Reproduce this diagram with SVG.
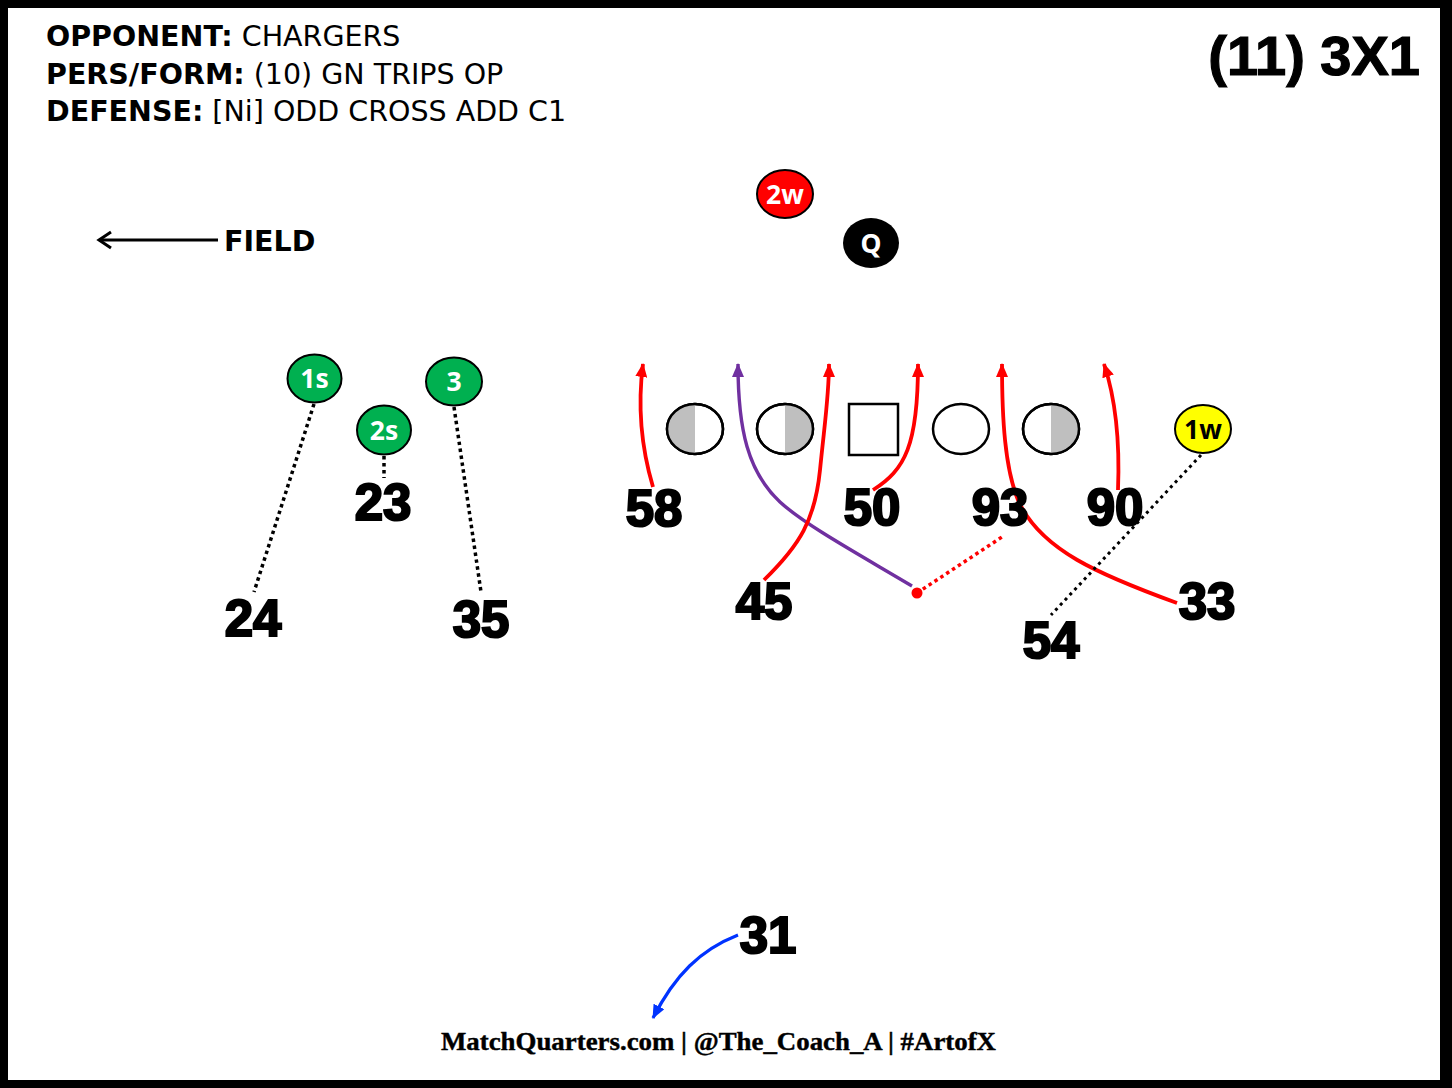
<svg xmlns="http://www.w3.org/2000/svg" width="1452" height="1088" viewBox="0 0 1452 1088">
<defs>
<style>
.hdr{font-family:"DejaVu Sans",sans-serif;font-size:28.5px;fill:#000}
.b{font-weight:bold}
.num{font-family:"Liberation Sans",Arial,sans-serif;font-weight:bold;font-size:51px;fill:#000;stroke:#000;stroke-width:2.2;text-anchor:middle}
.lbl{font-family:"Noto Sans","Open Sans",sans-serif;font-weight:bold;font-size:26.5px;text-anchor:middle}
.ol{stroke:#000;stroke-width:2.5;fill:#fff}
.ole{stroke:#000;stroke-width:2.5;fill:none}
.gray{fill:#BFBFBF}
.rt{fill:none;stroke:#FF0000;stroke-width:3.8}
.dot{fill:none;stroke:#000;stroke-width:3.5;stroke-dasharray:3.5 3.5}
</style>
<marker id="ar" viewBox="0 0 14 12" refX="13" refY="6" markerWidth="14" markerHeight="12" markerUnits="userSpaceOnUse" orient="auto"><path d="M0,0 L14,6 L0,12 z" fill="#FF0000"/></marker>
<marker id="ap" viewBox="0 0 14 12" refX="13" refY="6" markerWidth="14" markerHeight="12" markerUnits="userSpaceOnUse" orient="auto"><path d="M0,0 L14,6 L0,12 z" fill="#7030A0"/></marker>
<marker id="ab" viewBox="0 0 14 12" refX="13" refY="6" markerWidth="14" markerHeight="12" markerUnits="userSpaceOnUse" orient="auto"><path d="M0,0 L14,6 L0,12 z" fill="#0033FF"/></marker>
</defs>
<rect x="0" y="0" width="1452" height="1088" fill="#000"/>
<rect x="8" y="8" width="1432" height="1072" fill="#fff"/>

<g id="header">
<text class="hdr" x="46" y="46"><tspan class="b">OPPONENT:</tspan> CHARGERS</text>
<text class="hdr" x="46" y="84"><tspan class="b">PERS/FORM:</tspan> (10) GN TRIPS OP</text>
<text class="hdr" x="46" y="121"><tspan class="b">DEFENSE:</tspan> [Ni] ODD CROSS ADD C1</text>
<text x="1420" y="75" font-family="Liberation Sans,Arial,sans-serif" font-weight="bold" font-size="56" text-anchor="end" stroke="#000" stroke-width="1.2">(11) 3X1</text>
</g>

<g id="field">
<line x1="99" y1="240" x2="218" y2="240" stroke="#000" stroke-width="3"/>
<polyline points="111,232 99,240 111,248" fill="none" stroke="#000" stroke-width="3"/>
<text x="224" y="251" class="hdr b" font-size="26.5">FIELD</text>
</g>

<g id="connectors">
<path class="rt" d="M653,487 C642,450 637,410 643,364" marker-end="url(#ar)"/>
<path d="M912,586 C860,555 805,525 780,502 C748,472 738,430 738,364" fill="none" stroke="#7030A0" stroke-width="3.4" marker-end="url(#ap)"/>
<path class="rt" d="M764,580 C800,545 815,520 820,470 C825,420 829,395 829,364" marker-end="url(#ar)"/>
<path class="rt" d="M873,490 C905,470 918,445 918,364" marker-end="url(#ar)"/>
<path class="rt" d="M1177,603 C1100,575 1040,550 1018,500 C1005,468 1002,420 1002,364" marker-end="url(#ar)"/>
<path class="rt" d="M1118,490 C1120,440 1116,400 1104,364" marker-end="url(#ar)"/>
<line x1="917" y1="593" x2="1002" y2="537" stroke="#FF0000" stroke-width="3.5" stroke-dasharray="3.5 3.5"/>
<circle cx="917" cy="593" r="5.5" fill="#FF0000"/>
<line class="dot" x1="314" y1="404" x2="254" y2="592"/>
<line class="dot" x1="384" y1="456" x2="384" y2="478"/>
<line class="dot" x1="454" y1="407" x2="481" y2="592"/>
<line x1="1201" y1="455" x2="1051" y2="615" stroke="#000" stroke-width="3" stroke-dasharray="3 4"/>
<path d="M738,935 C700,950 675,975 653,1018" fill="none" stroke="#0033FF" stroke-width="3.2" marker-end="url(#ab)"/>
</g>

<g id="ol1"><ellipse class="ol" cx="695" cy="429" rx="28" ry="25"/><path class="gray" d="M695,404 A28,25 0 0 0 695,454 z"/><ellipse class="ole" cx="695" cy="429" rx="28" ry="25"/></g>
<g id="ol2"><ellipse class="ol" cx="785" cy="429" rx="28" ry="25"/><path class="gray" d="M785,404 A28,25 0 0 1 785,454 z"/><ellipse class="ole" cx="785" cy="429" rx="28" ry="25"/></g>
<g id="center"><rect class="ol" x="849" y="404" width="49" height="51"/></g>
<g id="ol3"><ellipse class="ol" cx="961" cy="429" rx="28" ry="25"/></g>
<g id="ol4"><ellipse class="ol" cx="1051" cy="429" rx="28" ry="25"/><path class="gray" d="M1051,404 A28,25 0 0 1 1051,454 z"/><ellipse class="ole" cx="1051" cy="429" rx="28" ry="25"/></g>

<g id="r2w"><ellipse cx="785" cy="194" rx="28" ry="24" fill="#FF0000" stroke="#000" stroke-width="2"/><text class="lbl" x="785" y="203.5" fill="#fff">2w</text></g>
<g id="q"><ellipse cx="871" cy="243" rx="28" ry="25" fill="#000"/><text class="lbl" x="871" y="252.5" fill="#fff">Q</text></g>
<g id="r1s"><ellipse cx="314.5" cy="378.5" rx="27" ry="24" fill="#00B050" stroke="#000" stroke-width="2"/><text class="lbl" x="314.5" y="388" fill="#fff">1s</text></g>
<g id="r2s"><ellipse cx="384" cy="430" rx="27" ry="24.5" fill="#00B050" stroke="#000" stroke-width="2"/><text class="lbl" x="384" y="439.5" fill="#fff">2s</text></g>
<g id="r3"><ellipse cx="454" cy="381.5" rx="28" ry="24" fill="#00B050" stroke="#000" stroke-width="2"/><text class="lbl" x="454" y="391" fill="#fff">3</text></g>
<g id="r1w"><ellipse cx="1203" cy="429" rx="28" ry="24" fill="#FFFF00" stroke="#000" stroke-width="2"/><text class="lbl" x="1203" y="438.5" fill="#000">1w</text></g>

<g id="defenders">
<text class="num" x="654" y="526">58</text>
<text class="num" x="383" y="520">23</text>
<text class="num" x="253" y="636">24</text>
<text class="num" x="481" y="637">35</text>
<text class="num" x="872" y="525">50</text>
<text class="num" x="1000" y="525">93</text>
<text class="num" x="1115" y="525">90</text>
<text class="num" x="764" y="619">45</text>
<text class="num" x="1207" y="619">33</text>
<text class="num" x="1051" y="658">54</text>
<text class="num" x="768" y="953">31</text>
</g>

<g id="footer">
<text x="441" y="1050" font-family="Liberation Serif,Times New Roman,serif" font-weight="bold" font-size="25" textLength="555" lengthAdjust="spacingAndGlyphs" stroke="#000" stroke-width="0.4">MatchQuarters.com | @The_Coach_A | #ArtofX</text>
</g>
</svg>
